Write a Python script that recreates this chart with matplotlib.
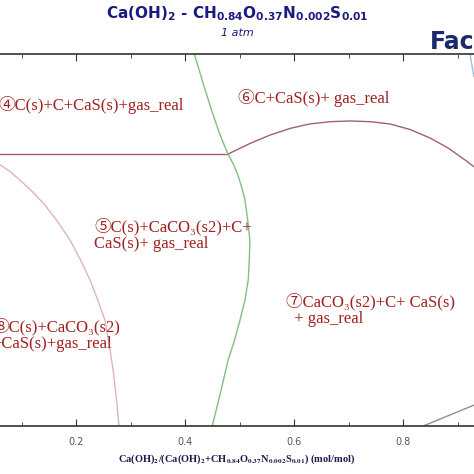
import matplotlib
matplotlib.use('Agg')
import matplotlib.pyplot as plt
from matplotlib.ticker import MultipleLocator

plt.rcParams['mathtext.fontset'] = 'stix'

# phase boundaries (x in mol/mol, y normalised temperature 0..1)
flat_x = [0.0, 0.479]
flat_y = [0.731, 0.731]
red_x = [0.479, 0.52, 0.556, 0.593, 0.629, 0.666, 0.703, 0.74, 0.776, 0.813, 0.850, 0.882, 0.914, 0.94, 0.96]
red_y = [0.731, 0.760, 0.782, 0.800, 0.812, 0.818, 0.820, 0.818, 0.812, 0.797, 0.774, 0.748, 0.715, 0.686, 0.661]
green_x = [0.417, 0.427, 0.437, 0.449, 0.461, 0.470, 0.479, 0.489, 0.497, 0.504, 0.510, 0.515, 0.519,
           0.518, 0.516, 0.510, 0.501, 0.491, 0.479, 0.465, 0.450]
green_y = [1.0, 0.952, 0.903, 0.848, 0.796, 0.762, 0.731, 0.703, 0.675, 0.642, 0.608, 0.555, 0.5,
           0.446, 0.392, 0.338, 0.285, 0.231, 0.177, 0.089, 0.0]
pink_x = [0.0, 0.03, 0.061, 0.079, 0.097, 0.120, 0.143, 0.166, 0.189, 0.208, 0.226, 0.240, 0.253,
          0.261, 0.268, 0.274, 0.279]
pink_y = [0.74, 0.724, 0.702, 0.684, 0.661, 0.630, 0.594, 0.550, 0.5, 0.447, 0.392, 0.338, 0.285,
          0.218, 0.151, 0.075, 0.0]
gray_x = [0.837, 0.93]
gray_y = [0.0, 0.056]
blue_x = [0.923, 0.93]
blue_y = [1.0, 0.94]

W = 474
fig = plt.figure(figsize=(4.74, 4.74), dpi=100)
ax = fig.add_axes([-33 / W, 48 / W, 545 / W, 372 / W])
ax.set_xlim(0, 1)
ax.set_ylim(0, 1)

ax.plot(flat_x, flat_y, color='#a06070', lw=1)
ax.plot(red_x, red_y, color='#a06070', lw=1)
ax.plot(green_x, green_y, color='#80c080', lw=1)
ax.plot(pink_x, pink_y, color='#e0b0c8', lw=1)
ax.plot(gray_x, gray_y, color='#909090', lw=1)
ax.plot(blue_x, blue_y, color='#a0c0d8', lw=1)

for s in ['left', 'right']:
    ax.spines[s].set_visible(False)
for s in ['top', 'bottom']:
    ax.spines[s].set_color('#333333')
    ax.spines[s].set_linewidth(1.2)
ax.xaxis.set_major_locator(MultipleLocator(0.2))
ax.xaxis.set_minor_locator(MultipleLocator(0.1))
ax.tick_params(axis='x', which='both', direction='in', top=True, bottom=True,
               colors='#333333', labelcolor='#555555', labelsize=7, pad=8)
ax.tick_params(axis='x', which='major', length=5)
ax.tick_params(axis='x', which='minor', length=3)
ax.set_xticks([0.2, 0.4, 0.6, 0.8])
ax.set_xticklabels(['0.2', '0.4', '0.6', '0.8'])
ax.set_yticks([])

def ft(px, py, s, **kw):
    fig.text(px / W, 1 - py / W, s, **kw)

ft(237, 14, r'Ca(OH)$\mathbf{_2}$ - CH$\mathbf{_{0.84}}$O$\mathbf{_{0.37}}$N$\mathbf{_{0.002}}$S$\mathbf{_{0.01}}$',
   ha='center', va='center', color='#1a1a80', fontsize=11, fontweight='bold', math_fontfamily='dejavusans')
ft(237, 33, '1 atm', ha='center', va='center', color='#1a1a80', fontsize=8, style='italic')
ft(430, 42, 'Fac', ha='left', va='center', color='#1a2a6a', fontsize=17, fontweight='bold')
ft(237, 459, r'Ca(OH)$\mathbf{_2}$/(Ca(OH)$\mathbf{_2}$+CH$\mathbf{_{0.84}}$O$\mathbf{_{0.37}}$N$\mathbf{_{0.002}}$S$\mathbf{_{0.01}}$) (mol/mol)',
   ha='center', va='center', color='#1a1a50', fontsize=7.5, fontweight='bold', family='Liberation Serif')

lab = dict(color='#a02020', fontsize=12, family=['Liberation Serif', 'Noto Sans CJK JP'],
           va='center', ha='left', linespacing=1.1)
ft(-2, 105, '④C(s)+C+CaS(s)+gas_real', **lab)
ft(238, 98, '⑥C+CaS(s)+ gas_real', **lab)
ft(94, 235, '⑤C(s)+CaCO₃(s2)+C+\nCaS(s)+ gas_real', **lab)
ft(286, 310, '⑦CaCO₃(s2)+C+ CaS(s)\n  + gas_real', **lab)
ft(-8, 335, '⑧C(s)+CaCO₃(s2)\n+CaS(s)+gas_real', **lab)

fig.savefig('out.png', dpi=100)
